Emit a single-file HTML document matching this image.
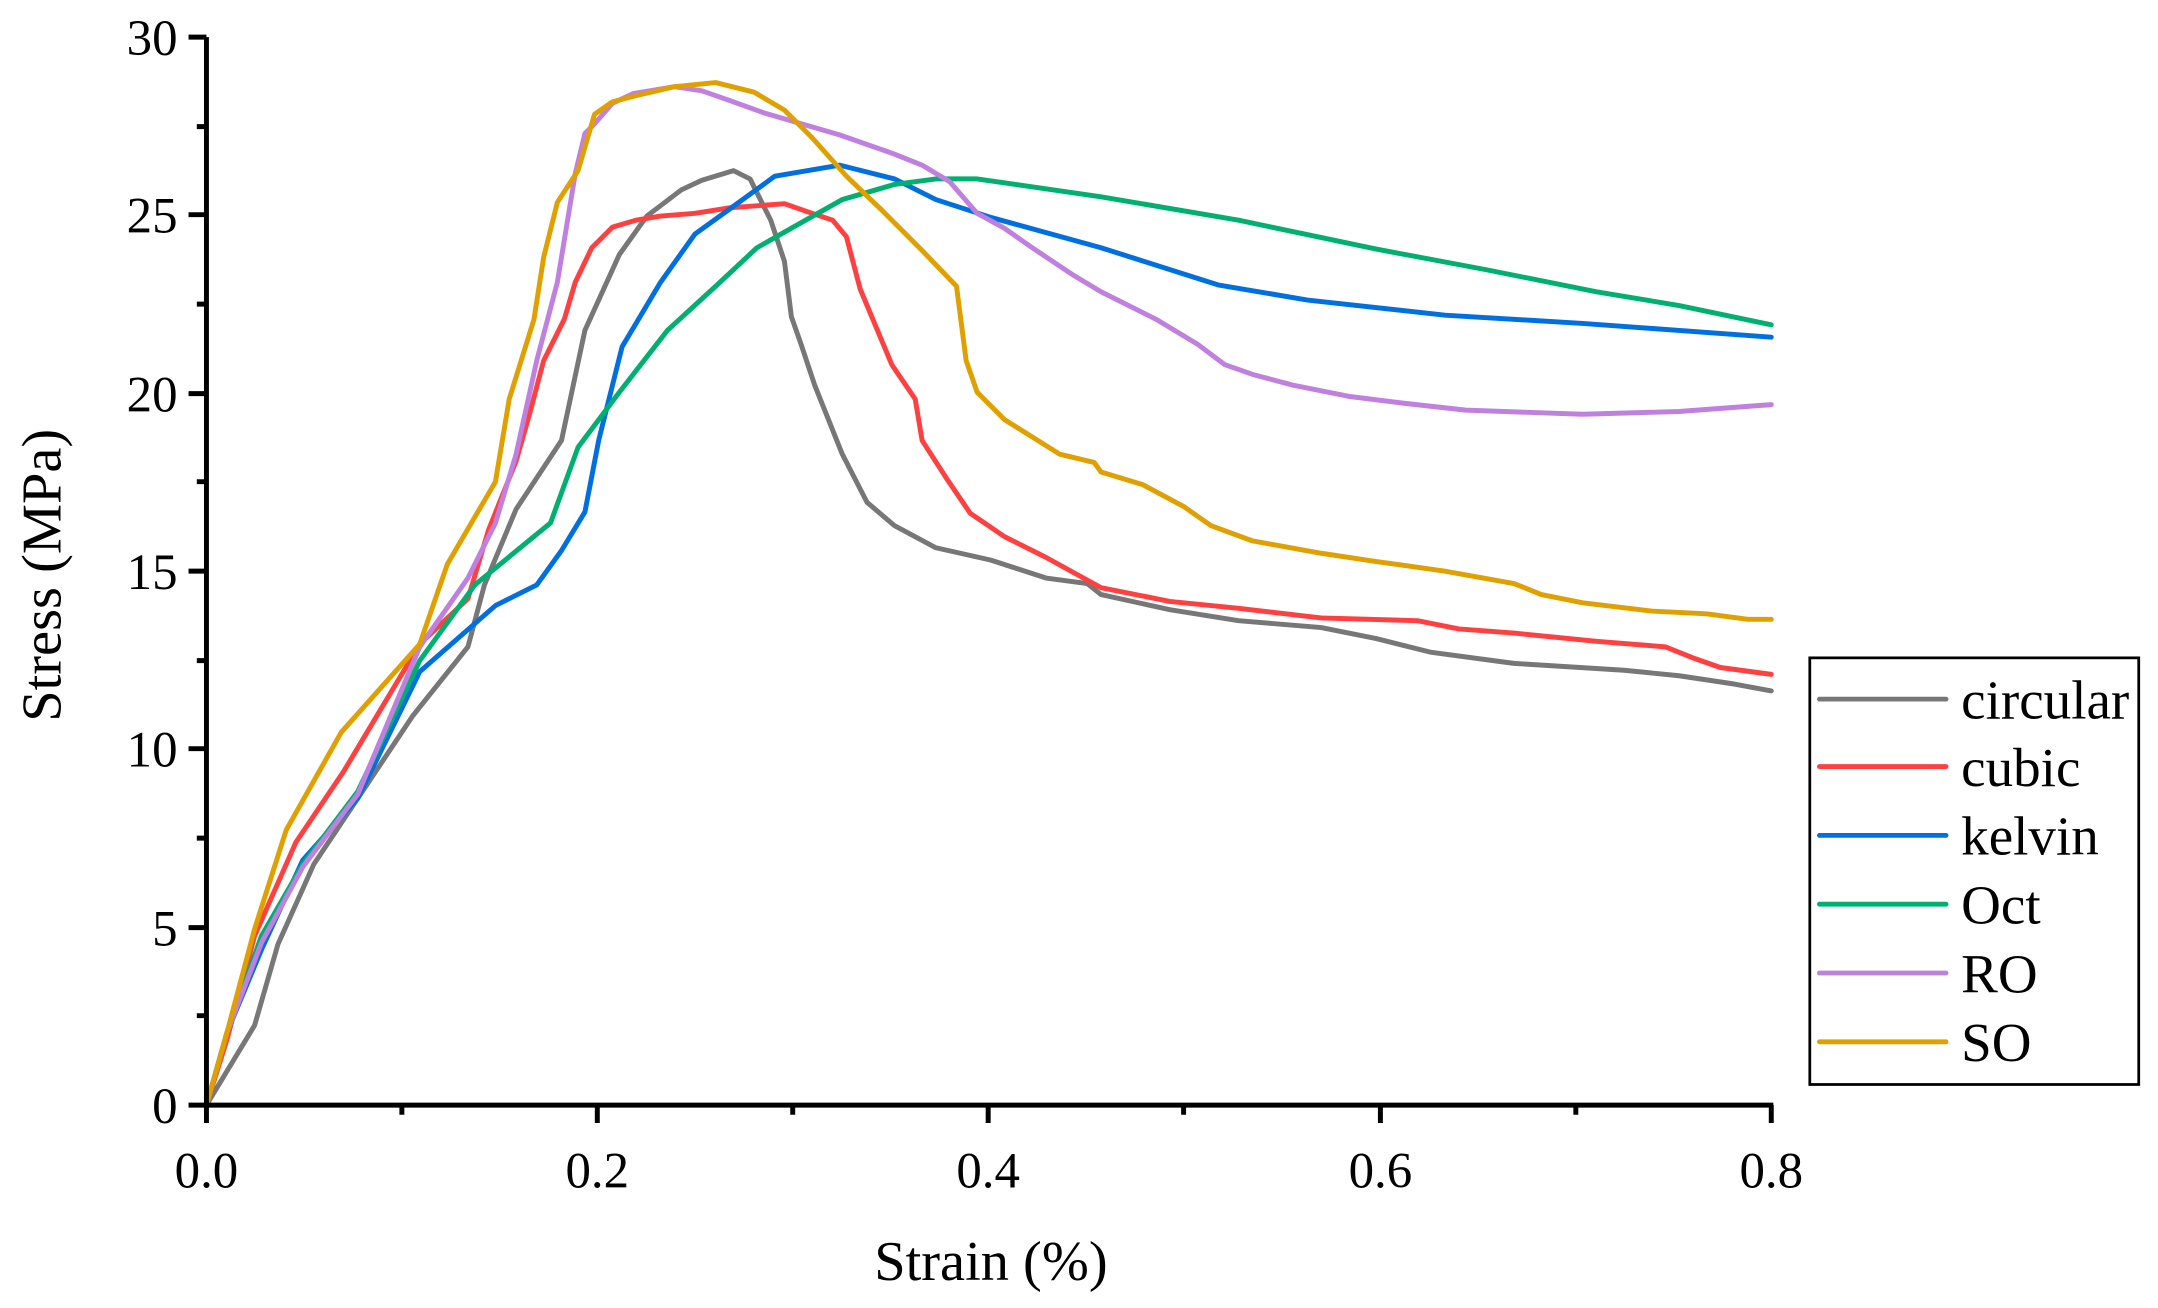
<!DOCTYPE html>
<html><head><meta charset="utf-8"><style>html,body{margin:0;padding:0;background:#fff}svg{display:block}</style></head>
<body>
<svg width="2158" height="1308" viewBox="0 0 1568 950.4" preserveAspectRatio="none" xmlns="http://www.w3.org/2000/svg" font-family="Liberation Serif, serif">
<rect width="1568" height="950.4" fill="#fff"/>
<g fill="none" stroke-width="3.6" stroke-linejoin="round" stroke-linecap="round">
<polyline stroke="#777777" points="150,803 185,745 202,686 228,628 260,580 300,520 340,470 352,425 375,370 408,320 425,240 450,185 470,157 495,138 510,131 533,124 545,130 560,160 570,190 575,230 582,250 592,280 612,330 630,365 650,382 680,398 720,407 760,420 790,424 800,432 850,443 900,451 960,456 1000,464 1040,474 1100,482 1180,487 1220,491 1260,497 1287,502"/>
<polyline stroke="#ff4040" points="150,803 165,755 185,680 215,612 250,560 305,468 340,435 355,385 375,335 385,300 395,262 410,232 418,205 430,180 445,165 462,160 480,157 505,155 530,151 570,148 590,155 605,160 615,172 625,210 648,265 665,290 670,320 688,348 705,373 730,390 760,405 800,427 850,437 900,442 960,449 1030,451 1060,457 1100,460 1160,466 1210,470 1230,478 1250,485 1287,490"/>
<polyline stroke="#0070e0" points="150,803 165,750 190,690 220,625 260,580 305,488 360,440 390,425 408,400 425,372 435,320 452,252 480,205 505,170 530,152 563,128 610,120 650,130 680,145 720,158 800,180 885,207 950,218 1050,229 1150,235 1287,245"/>
<polyline stroke="#00b070" points="150,803 165,750 190,680 220,628 260,575 305,480 345,425 400,380 420,325 450,285 485,240 520,208 550,180 580,163 612,145 650,134 680,130 710,130 800,143 900,160 1000,181 1080,196 1160,212 1220,222 1287,236"/>
<polyline stroke="#c080e0" points="150,803 165,750 190,685 220,630 260,577 305,470 340,420 360,380 375,330 390,262 405,205 418,126 425,97 432,90 445,75 460,68 490,63 510,66 530,73 555,82 610,98 650,112 670,120 690,132 710,155 730,166 750,180 780,200 800,212 840,232 870,250 890,265 910,272 940,280 980,288 1020,293 1065,298 1150,301 1220,299 1260,296 1287,294"/>
<polyline stroke="#e0a000" points="150,803 165,750 185,675 208,603 248,532 305,468 325,410 360,350 370,290 388,232 395,187 405,147 420,124 432,83 445,74 460,70 490,63 520,60 548,67 570,80 590,100 615,128 640,152 670,182 695,208 702,262 710,285 730,305 770,330 795,336 800,343 830,352 860,368 880,382 910,393 960,402 1000,408 1050,415 1100,424 1120,432 1150,438 1200,444 1240,446 1270,450 1287,450"/>
</g>
<g stroke="#000" stroke-width="3.6" fill="none">
<line x1="150" y1="27" x2="150" y2="805"/>
<line x1="148" y1="803" x2="1288.5" y2="803"/>
<path d="M150,803h-13M150,674h-13M150,544h-13M150,415h-13M150,286h-13M150,156h-13M150,27h-13"/>
<path d="M150,738h-7M150,609h-7M150,480h-7M150,350h-7M150,221h-7M150,92h-7"/>
<path d="M150,803v13M434,803v13M718,803v13M1003,803v13M1287,803v13"/>
<path d="M292,803v7M576,803v7M860,803v7M1145,803v7"/>
</g>
<g font-size="37" fill="#000" text-anchor="end">
<text x="129" y="816">0</text><text x="129" y="687">5</text><text x="129" y="557">10</text><text x="129" y="428">15</text><text x="129" y="299">20</text><text x="129" y="169">25</text><text x="129" y="40">30</text>
</g>
<g font-size="37" fill="#000" text-anchor="middle">
<text x="150" y="863">0.0</text><text x="434" y="863">0.2</text><text x="718" y="863">0.4</text><text x="1003" y="863">0.6</text><text x="1287" y="863">0.8</text>
<text x="720" y="930" font-size="41">Strain (%)</text>
<text transform="translate(44,418) rotate(-90)" font-size="41">Stress (MPa)</text>
</g>
<rect x="1315" y="478" width="239" height="310" fill="#fff" stroke="#000" stroke-width="2"/>
<g stroke-width="3.5" stroke-linecap="round">
<line x1="1322" y1="508" x2="1414" y2="508" stroke="#777777"/>
<line x1="1322" y1="557" x2="1414" y2="557" stroke="#ff4040"/>
<line x1="1322" y1="607" x2="1414" y2="607" stroke="#0070e0"/>
<line x1="1322" y1="657" x2="1414" y2="657" stroke="#00b070"/>
<line x1="1322" y1="707" x2="1414" y2="707" stroke="#c080e0"/>
<line x1="1322" y1="757" x2="1414" y2="757" stroke="#e0a000"/>
</g>
<g font-size="40" fill="#000">
<text x="1425" y="522">circular</text><text x="1425" y="571">cubic</text><text x="1425" y="621">kelvin</text><text x="1425" y="671">Oct</text><text x="1425" y="721">RO</text><text x="1425" y="771">SO</text>
</g>
</svg>
</body></html>
